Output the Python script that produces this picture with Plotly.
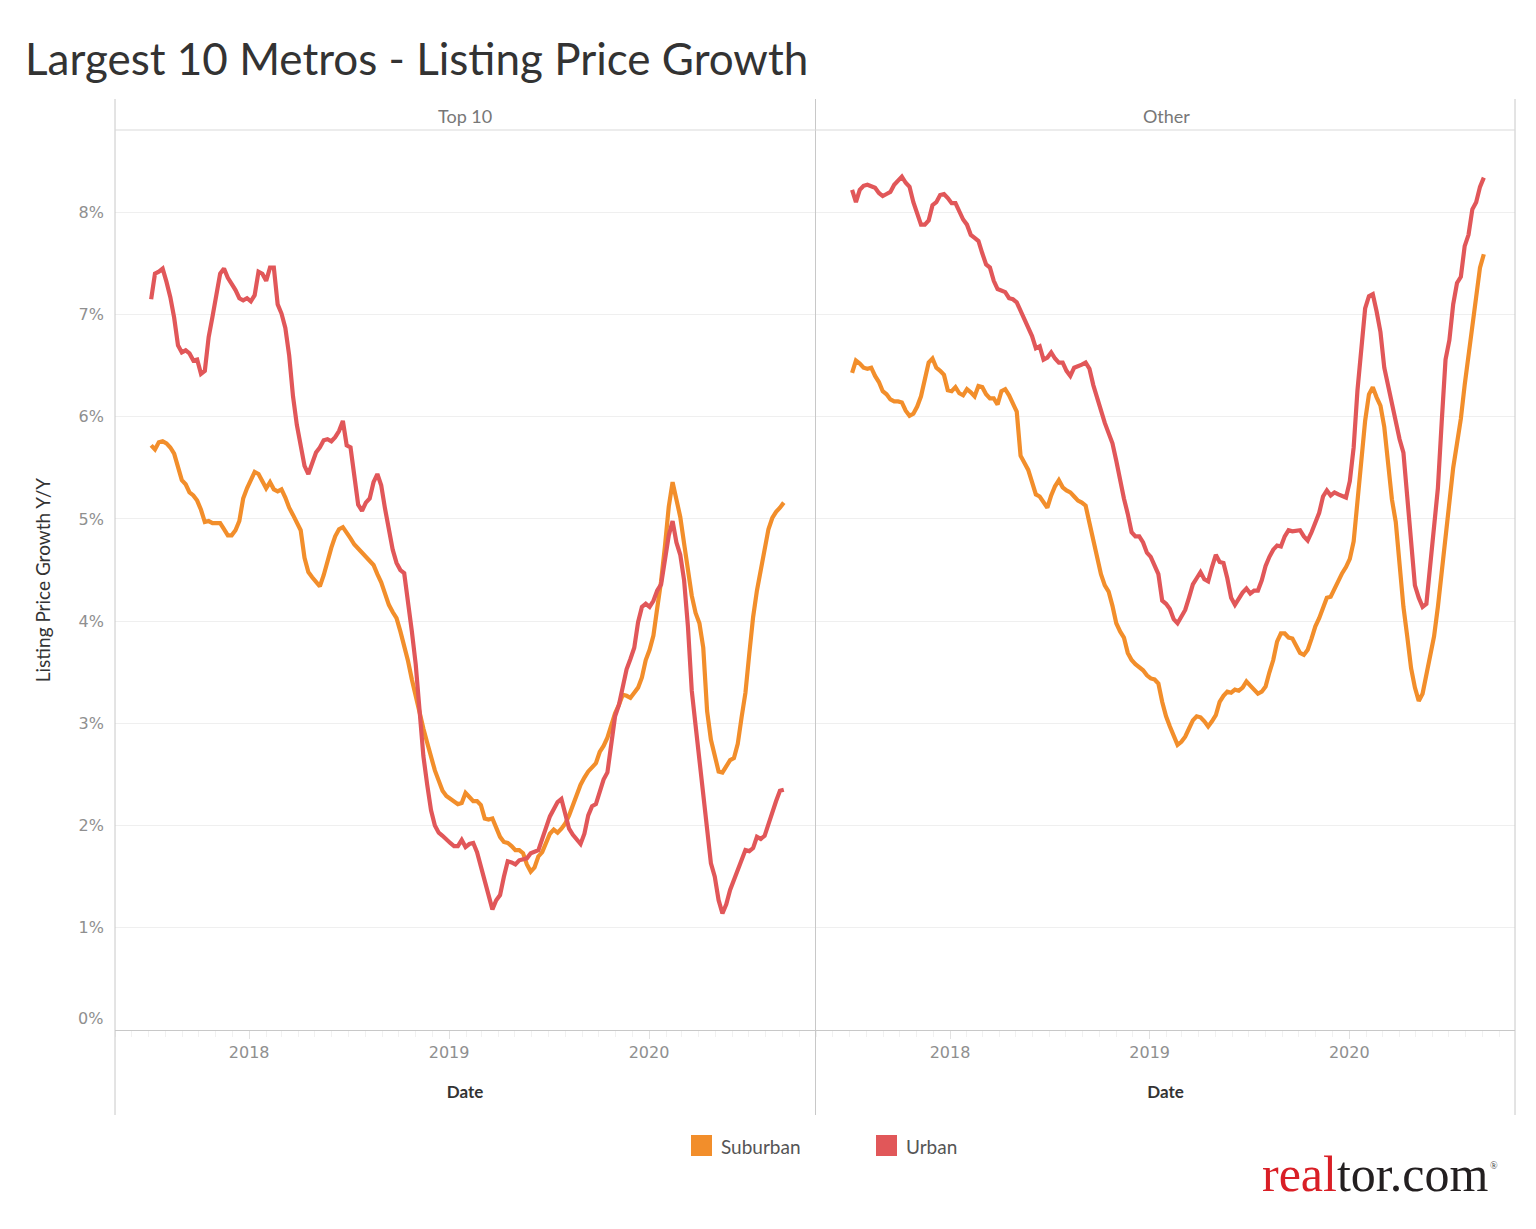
import pandas as pd
import plotly.graph_objects as go

# ---------------- data ----------------
dates = pd.date_range("2017-07-06", periods=166, freq="7D")

top10_suburban = [
    5.72, 5.68, 5.75, 5.76, 5.74, 5.70, 5.64, 5.50, 5.38, 5.34,
    5.26, 5.23, 5.18, 5.09, 4.97, 4.98, 4.96, 4.96, 4.96, 4.90,
    4.84, 4.84, 4.89, 4.98, 5.20, 5.30, 5.38, 5.46, 5.44, 5.37,
    5.30, 5.36, 5.29, 5.27, 5.29, 5.21, 5.11, 5.04, 4.97, 4.89,
    4.62, 4.48, 4.43, 4.38, 4.34, 4.45, 4.60, 4.72, 4.83, 4.90,
    4.92, 4.87, 4.81, 4.75, 4.71, 4.67, 4.63, 4.60, 4.55, 4.46,
    4.38, 4.27, 4.16, 4.09, 4.03, 3.90, 3.77, 3.61, 3.43, 3.26,
    3.08, 2.95, 2.81, 2.66, 2.54, 2.44, 2.34, 2.29, 2.26, 2.24,
    2.21, 2.22, 2.32, 2.28, 2.24, 2.24, 2.20, 2.07, 2.06, 2.07,
    1.99, 1.89, 1.84, 1.83, 1.80, 1.76, 1.76, 1.73, 1.62, 1.55,
    1.59, 1.70, 1.74, 1.83, 1.92, 1.96, 1.93, 1.97, 2.02, 2.10,
    2.21, 2.32, 2.40, 2.47, 2.53, 2.57, 2.61, 2.72, 2.78, 2.86,
    2.99, 3.10, 3.18, 3.28, 3.27, 3.25, 3.30, 3.35, 3.45, 3.62,
    3.72, 3.86, 4.13, 4.39, 4.73, 5.12, 5.36, 5.20, 5.02, 4.76,
    4.50, 4.25, 4.08, 3.98, 3.74, 3.12, 2.84, 2.68, 2.53, 2.52,
    2.58, 2.64, 2.66, 2.80, 3.06, 3.30, 3.68, 4.04, 4.30, 4.51,
    4.71, 4.90, 5.01, 5.07, 5.11, 5.16,
]

top10_urban = [
    7.15, 7.40, 7.42, 7.45, 7.32, 7.17, 6.97, 6.70, 6.63, 6.65,
    6.62, 6.55, 6.56, 6.42, 6.45, 6.78, 6.98, 7.20, 7.40, 7.45,
    7.36, 7.30, 7.24, 7.16, 7.14, 7.16, 7.13, 7.19, 7.42, 7.40,
    7.33, 7.46, 7.46, 7.10, 7.01, 6.87, 6.60, 6.20, 5.92, 5.72,
    5.52, 5.44, 5.55, 5.65, 5.70, 5.77, 5.78, 5.76, 5.80, 5.86,
    5.96, 5.72, 5.70, 5.40, 5.14, 5.08, 5.16, 5.20, 5.36, 5.44,
    5.33, 5.10, 4.90, 4.70, 4.57, 4.50, 4.47, 4.20, 3.90, 3.58,
    3.06, 2.68, 2.40, 2.15, 2.00, 1.93, 1.90, 1.86, 1.83, 1.80,
    1.80, 1.86, 1.79, 1.82, 1.83, 1.74, 1.60, 1.47, 1.30, 1.18,
    1.27, 1.32, 1.50, 1.65, 1.64, 1.62, 1.66, 1.67, 1.68, 1.73,
    1.75, 1.76, 1.87, 1.99, 2.09, 2.16, 2.23, 2.26, 2.11, 1.97,
    1.91, 1.87, 1.82, 1.92, 2.10, 2.19, 2.21, 2.33, 2.45, 2.52,
    2.78, 3.07, 3.18, 3.35, 3.53, 3.63, 3.74, 3.99, 4.14, 4.17,
    4.14, 4.20, 4.30, 4.36, 4.58, 4.84, 4.98, 4.77, 4.65, 4.40,
    3.95, 3.32, 2.98, 2.65, 2.32, 1.90, 1.63, 1.50, 1.27, 1.14,
    1.23, 1.37, 1.47, 1.55, 1.67, 1.76, 1.75, 1.78, 1.89, 1.87,
    1.90, 2.02, 2.15, 2.24, 2.34, 2.35,
]

other_suburban = [
    6.43, 6.55, 6.52, 6.48, 6.47, 6.48, 6.40, 6.34, 6.25, 6.22,
    6.17, 6.15, 6.15, 6.14, 6.06, 6.01, 6.03, 6.10, 6.20, 6.37,
    6.53, 6.57, 6.48, 6.45, 6.41, 6.26, 6.25, 6.29, 6.23, 6.21,
    6.27, 6.24, 6.20, 6.30, 6.29, 6.22, 6.18, 6.18, 6.12, 6.25,
    6.27, 6.21, 6.12, 6.05, 5.62, 5.54, 5.48, 5.36, 5.24, 5.22,
    5.17, 5.11, 5.23, 5.32, 5.38, 5.31, 5.28, 5.26, 5.22, 5.18,
    5.16, 5.13, 4.96, 4.78, 4.60, 4.46, 4.35, 4.29, 4.15, 3.98,
    3.90, 3.84, 3.69, 3.62, 3.58, 3.55, 3.52, 3.47, 3.44, 3.43,
    3.39, 3.21, 3.07, 2.97, 2.88, 2.79, 2.82, 2.87, 2.95, 3.03,
    3.07, 3.06, 3.02, 2.97, 3.02, 3.08, 3.21, 3.27, 3.31, 3.30,
    3.33, 3.32, 3.35, 3.41, 3.37, 3.33, 3.29, 3.31, 3.36, 3.50,
    3.62, 3.80, 3.88, 3.88, 3.84, 3.83, 3.75, 3.69, 3.67, 3.72,
    3.83, 3.95, 4.03, 4.12, 4.23, 4.24, 4.32, 4.40, 4.47, 4.53,
    4.61, 4.78, 5.19, 5.60, 5.96, 6.22, 6.29, 6.19, 6.11, 5.90,
    5.50, 5.19, 4.97, 4.55, 4.14, 3.85, 3.54, 3.35, 3.22, 3.29,
    3.47, 3.67, 3.85, 4.14, 4.48, 4.82, 5.16, 5.50, 5.74, 5.98,
    6.31, 6.60, 6.90, 7.21, 7.46, 7.59,
]

other_urban = [
    8.22, 8.10, 8.22, 8.26, 8.27, 8.26, 8.24, 8.19, 8.16, 8.18,
    8.20, 8.27, 8.31, 8.35, 8.29, 8.25, 8.10, 7.99, 7.88, 7.88,
    7.92, 8.07, 8.10, 8.17, 8.18, 8.14, 8.09, 8.09, 8.00, 7.93,
    7.88, 7.78, 7.75, 7.72, 7.60, 7.49, 7.46, 7.33, 7.25, 7.24,
    7.22, 7.16, 7.15, 7.12, 7.04, 6.96, 6.89, 6.79, 6.67, 6.69,
    6.56, 6.58, 6.63, 6.57, 6.53, 6.53, 6.45, 6.40, 6.48, 6.49,
    6.51, 6.53, 6.47, 6.31, 6.18, 6.04, 5.94, 5.84, 5.74, 5.57,
    5.37, 5.20, 5.05, 4.87, 4.83, 4.83, 4.77, 4.67, 4.63, 4.54,
    4.46, 4.20, 4.17, 4.12, 4.02, 3.98, 4.05, 4.11, 4.23, 4.36,
    4.42, 4.48, 4.41, 4.39, 4.53, 4.65, 4.58, 4.57, 4.42, 4.23,
    4.16, 4.22, 4.28, 4.32, 4.27, 4.30, 4.30, 4.40, 4.54, 4.63,
    4.70, 4.74, 4.73, 4.83, 4.89, 4.88, 4.89, 4.89, 4.83, 4.79,
    4.87, 4.98, 5.06, 5.22, 5.28, 5.23, 5.26, 5.24, 5.22, 5.21,
    5.37, 5.70, 6.26, 6.72, 7.06, 7.18, 7.20, 7.03, 6.83, 6.48,
    6.30, 6.13, 5.95, 5.78, 5.65, 5.21, 4.77, 4.35, 4.23, 4.14,
    4.17, 4.53, 4.88, 5.30, 5.95, 6.56, 6.75, 7.10, 7.31, 7.37,
    7.67, 7.78, 8.03, 8.10, 8.25, 8.34,
]

panels = ["Top 10", "Other"]
series_names = ["Suburban", "Urban"]
colors = {"Suburban": "#F28E2B", "Urban": "#E15759"}
year_ticks = ["2018-01-01", "2019-01-01", "2020-01-01"]
year_labels = ["2018", "2019", "2020"]
y_ticks = [1, 2, 3, 4, 5, 6, 7, 8]
y_labels = ["1%", "2%", "3%", "4%", "5%", "6%", "7%", "8%"]

W, H = 1536, 1229
def px(x):
    return x / W
def py(y):
    return 1 - y / H

fig = go.Figure()

data = {
    ("Top 10", "Suburban"): top10_suburban,
    ("Top 10", "Urban"): top10_urban,
    ("Other", "Suburban"): other_suburban,
    ("Other", "Urban"): other_urban,
}

for k, panel in enumerate(panels):
    xa = "x" if k == 0 else "x2"
    ya = "y" if k == 0 else "y2"
    for name in series_names:
        fig.add_trace(go.Scatter(
            x=dates, y=data[(panel, name)], mode="lines", name=name,
            line=dict(color=colors[name], width=4.2),
            xaxis=xa, yaxis=ya, showlegend=False,
            hovertemplate="%{x|%b %d, %Y}<br>%{y:.2f}%<extra>" + name + "</extra>",
        ))

grid_c = "#efefef"
line_c = "#c8c8c8"
tick_font = dict(family="DejaVu Sans, Verdana, sans-serif", size=16, color="#8f8f8f")
label_font = "Lato, 'Open Sans', sans-serif"
x_range = ["2017-05-01", "2020-10-30"]
y_range = [0, 8.806]

common_x = dict(
    range=x_range, tickmode="array", tickvals=year_ticks, ticktext=year_labels,
    showgrid=False, zeroline=False, showline=True, linecolor=line_c, linewidth=1,
    ticks="outside", ticklen=8, tickcolor="#e2e2e2", tickfont=tick_font,
    minor=dict(dtick="M1", ticks="outside", ticklen=6, tickcolor="#f1f1f1", showgrid=False),
    title=dict(text="<b>Date</b>", font=dict(family=label_font, size=17, color="#333333"), standoff=24),
)
common_y = dict(
    range=y_range, tickmode="array", tickvals=y_ticks, ticktext=y_labels,
    showgrid=True, gridcolor=grid_c, gridwidth=1, zeroline=False, showline=False,
    ticks="", tickfont=tick_font,
)

fig.update_layout(
    width=W, height=H,
    margin=dict(l=0, r=0, t=0, b=0),
    paper_bgcolor="white", plot_bgcolor="white",
    showlegend=False,
    xaxis=dict(domain=[px(115), px(815)], anchor="y", **common_x),
    xaxis2=dict(domain=[px(816), px(1515)], anchor="y2", **common_x),
    yaxis=dict(domain=[py(1030), py(130)], anchor="x", ticklabelstandoff=10,
               title=dict(text="Listing Price Growth Y/Y",
                          font=dict(family=label_font, size=19, color="#333333"), standoff=22),
               **common_y),
    yaxis2=dict(domain=[py(1030), py(130)], anchor="x2", showticklabels=False, **common_y),
    title=dict(text="Largest 10 Metros - Listing Price Growth",
               x=px(25), xanchor="left", y=py(60), yanchor="middle",
               font=dict(family=label_font, size=44, color="#333333")),
)

shapes = []
# panel separators
for xv in [115, 815.5, 1515]:
    shapes.append(dict(type="line", xref="paper", yref="paper",
                       x0=px(xv), x1=px(xv), y0=py(99), y1=py(1115),
                       line=dict(color=line_c, width=1)))
# header bottom line
shapes.append(dict(type="line", xref="paper", yref="paper",
                   x0=px(115), x1=px(1515), y0=py(130), y1=py(130),
                   line=dict(color="#d9d9d9", width=1)))
# legend swatches
for name, x0 in [("Suburban", 691), ("Urban", 876)]:
    shapes.append(dict(type="rect", xref="paper", yref="paper",
                       x0=px(x0), x1=px(x0 + 21), y0=py(1156), y1=py(1135),
                       fillcolor=colors[name], line=dict(width=0)))
fig.update_layout(shapes=shapes)

def ann(text, x, y, font, xanchor="center"):
    return dict(text=text, x=px(x), y=py(y), xref="paper", yref="paper",
                xanchor=xanchor, yanchor="middle", showarrow=False, font=font)

hdr_font = dict(family=label_font, size=18, color="#777777")
leg_font = dict(family=label_font, size=19, color="#555555")
annotations = [
    ann("Top 10", 465, 116, hdr_font),
    ann("Other", 1166, 116, hdr_font),
    ann("0%", 105, 1018, tick_font, "right"),
    ann("Suburban", 719, 1146, leg_font, "left"),
    ann("Urban", 904, 1146, leg_font, "left"),
    ann('<span style="color:#D91F26">real</span>tor.com', 1490, 1174,
        dict(family="Liberation Serif, Times New Roman, serif", size=50, color="#231f20"), "right"),
    ann("®", 1494, 1165, dict(family="Liberation Serif, serif", size=10, color="#444444")),
]
fig.update_layout(annotations=annotations)

fig.write_html("out.html")
